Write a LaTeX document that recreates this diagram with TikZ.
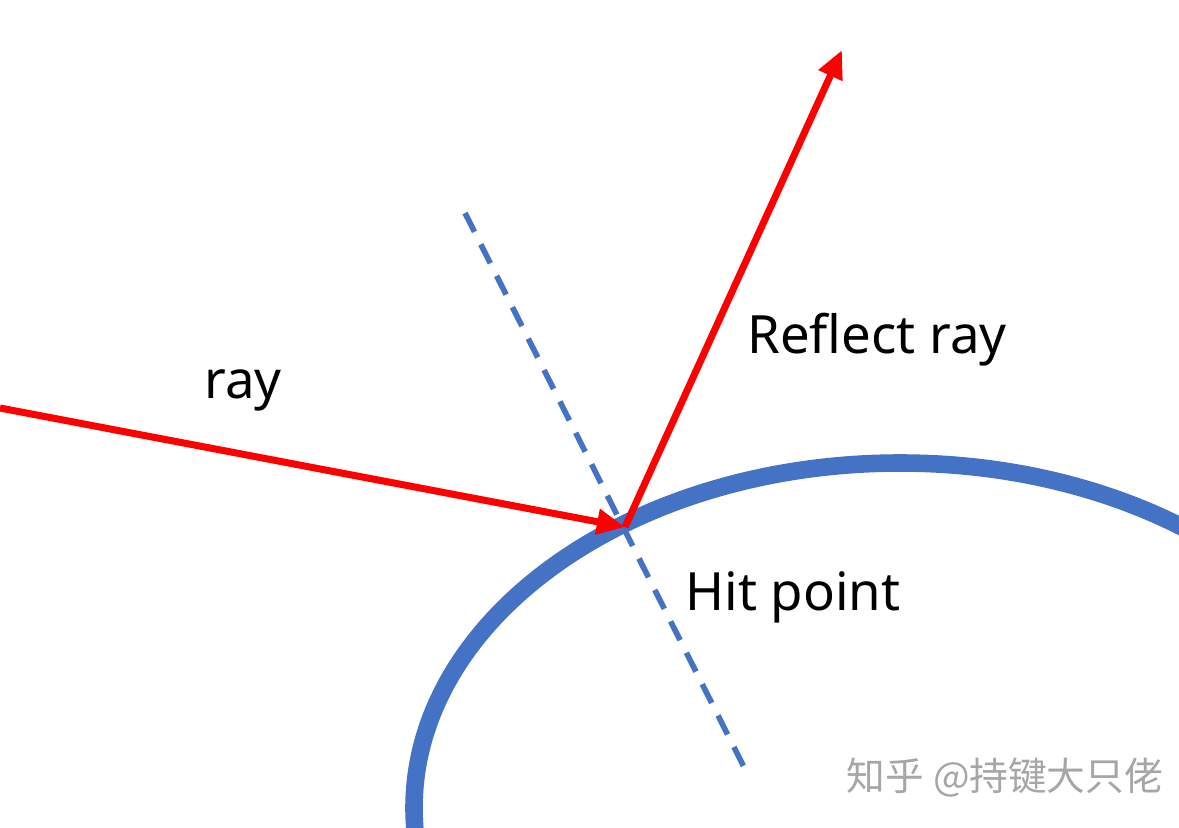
\documentclass[tikz,border=0pt]{standalone}
\usepackage{fontspec}
\setmainfont{Noto Sans}
\newfontfamily\cjk{Noto Sans CJK SC}
\usetikzlibrary{arrows.meta}
\definecolor{rayred}{RGB}{255,0,0}
\definecolor{surfblue}{RGB}{68,114,196}
\begin{document}
\begin{tikzpicture}[x=0.01cm,y=-0.01cm,
  redray/.style={draw=rayred,line width=2pt,-{Triangle[length=8pt,width=7pt]}},
  lbl/.style={font=\fontsize{15}{18}\selectfont,text=black}]
\useasboundingbox (0,0) rectangle (1179,827);
\begin{scope}
\clip (0,0) rectangle (1179,827);
\draw[surfblue,line width=5pt] (900,808) ellipse [x radius=486, y radius=345];
\end{scope}
\draw[surfblue,line width=1.6pt,dash pattern=on 6pt off 4pt] (465,213) -- (748,775);
\coordinate (start) at (0,408);
\coordinate (hit) at (625,527);
\coordinate (rend) at (842,50);
\draw[redray] (start) -- (hit);
\draw[redray] (hit) -- (rend);
\node[lbl] (l1) at (243,390) {ray};
\node[lbl] (l2) at (877,340) {Reflect ray};
\node[lbl] (l3) at (793,597) {Hit point};
\node[font=\cjk\fontsize{11}{13}\selectfont,text=black!35] (wm) at (1005,778) {知乎 @持键大只佬};
\end{tikzpicture}
\end{document}
